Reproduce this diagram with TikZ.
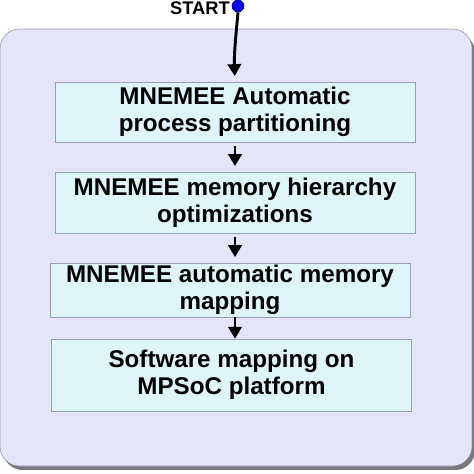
\documentclass[tikz,border=0pt]{standalone}
\usepackage{fontspec}
\setmainfont{Liberation Sans}
\usepackage{xcolor}
\usepackage{tikz}
\usetikzlibrary{arrows.meta,positioning,calc}

\definecolor{panelbg}{RGB}{229,229,250}
\definecolor{panelline}{RGB}{150,150,170}
\definecolor{panelshadow}{RGB}{120,120,125}
\definecolor{stepfill}{RGB}{222,246,249}
\definecolor{stepline}{RGB}{150,160,175}
\definecolor{dotblue}{RGB}{0,0,240}

\begin{document}
\begin{tikzpicture}[every node/.style={font=\fontsize{17.2}{19}\selectfont\bfseries},
    stepbox/.style={draw=stepline, fill=stepfill, minimum width=9cm, align=center, inner sep=0pt},
    flow/.style={line width=2.1pt, -{Triangle[length=8.5pt,width=9.5pt]}}]
    \useasboundingbox (0,0) rectangle (11.85,11.85);

    % Panel
    \fill[panelshadow, rounded corners=14pt] (0.075,0.1) rectangle (11.875,11.025);
    \draw[panelline, fill=panelbg, rounded corners=14pt] (0,0.2) rectangle (11.8,11.125);

    % Steps
    \node[stepbox, minimum height=1.5cm] (partition) at (5.875,9.05) {MNEMEE Automatic\\process partitioning};
    \node[stepbox, minimum height=1.525cm] (hierarchy) at (5.875,6.7875) {MNEMEE memory hierarchy\\optimizations};
    \node[stepbox, minimum height=1.35cm] (mapping) at (5.75,4.6) {MNEMEE automatic memory\\mapping};
    \node[stepbox, minimum height=1.8cm] (software) at (5.7875,2.475) {Software mapping on\\MPSoC platform};

    % Start
    \node[circle, draw=blue!60!black, fill=dotblue, minimum size=0.3cm, inner sep=0pt] (startdot) at (5.95,11.7) {};
    \node[anchor=base east, inner sep=0pt, font=\fontsize{13}{15}\selectfont\bfseries] (start) at (5.75,11.5) {START};
    \draw[flow, shorten >=4pt] (startdot.south) .. controls (5.9,11.0) and (5.85,10.5) .. (partition.north);

    % Arrows
    \draw[flow, shorten <=3pt, shorten >=4pt] (partition) -- (hierarchy);
    \draw[flow, shorten <=3pt, shorten >=4pt] (hierarchy.south) -- (hierarchy.south |- mapping.north);
    \draw[flow] (hierarchy.south |- mapping.south) -- (hierarchy.south |- software.north);
\end{tikzpicture}
\end{document}
